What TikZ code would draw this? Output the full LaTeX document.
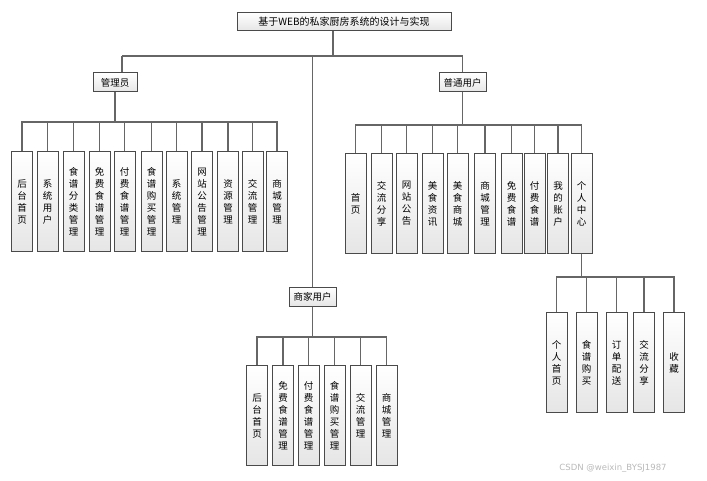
\documentclass[tikz,border=0pt]{standalone}
\usepackage{fontspec}
\newfontfamily\cjk{Noto Sans CJK SC}
\usetikzlibrary{shadings}
\definecolor{linec}{HTML}{666666}
\definecolor{boxc}{HTML}{4A4A4A}
\begin{document}
\begin{tikzpicture}[x=1pt,y=-1pt,
  box/.style={draw=boxc, line width=1pt, top color=white, bottom color=gray!20, inner sep=0pt, font=\cjk\fontsize{9.5}{12}\selectfont},
  grp/.style={box, minimum height=19pt, inner xsep=3pt},
  leaf/.style={box, minimum width=21pt, minimum height=100pt, align=center},
  conn/.style={draw=linec, line width=1.1pt}]
\useasboundingbox (0,0) rectangle (707,481);
% title
\node[box, minimum width=214pt, minimum height=18pt, font=\cjk\fontsize{10}{12}\selectfont] (title) at (344,21.5) {基于WEB的私家厨房系统的设计与实现};
\coordinate (trunkx) at (333,0);
\coordinate (topbus) at (0,56);
% groups
\node[grp, minimum width=44pt] (adm) at (115,82.5) {管理员};
\node[grp, minimum width=47pt] (usr) at (462.5,82.5) {普通用户};
\node[grp, minimum width=47pt] (mer) at (312.5,296.5) {商家用户};
\coordinate (admx) at (122,0);
\draw[conn] (title.south -| trunkx) -- (trunkx |- topbus);
\draw[conn] (admx |- topbus) -- (usr.north |- topbus);
\draw[conn] (admx |- topbus) -- (admx |- adm.north);
\draw[conn] (usr.north |- topbus) -- (usr.north);
\draw[conn] (mer.north |- topbus) -- (mer.north);
% admin children
\coordinate (admbus) at (0,122);
\foreach \i/\x/\t in {1/22/后\\台\\首\\页, 2/47.5/系\\统\\用\\户, 3/73.5/食\\谱\\分\\类\\管\\理, 4/99.5/免\\费\\食\\谱\\管\\理, 5/124.5/付\\费\\食\\谱\\管\\理, 6/151.5/食\\谱\\购\\买\\管\\理, 7/176.5/系\\统\\管\\理, 8/202/网\\站\\公\\告\\管\\理, 9/228/资\\源\\管\\理, 10/252.5/交\\流\\管\\理, 11/277/商\\城\\管\\理}{
  \node[leaf] (a\i) at (\x,202) {\t};
  \draw[conn] (adm.south) |- (admbus -| a\i.north) -- (a\i.north);
}
% user children
\coordinate (usrbus) at (0,125);
\foreach \i/\x/\t in {1/355.5/首\\页, 2/381.5/交\\流\\分\\享, 3/406.5/网\\站\\公\\告, 4/432.5/美\\食\\资\\讯, 5/457.5/美\\食\\商\\城, 6/485/商\\城\\管\\理, 7/511.5/免\\费\\食\\谱, 8/534.5/付\\费\\食\\谱, 9/558/我\\的\\账\\户, 10/581.5/个\\人\\中\\心}{
  \node[leaf] (u\i) at (\x,203.5) {\t};
  \draw[conn] (usr.south) |- (usrbus -| u\i.north) -- (u\i.north);
}
% personal center children
\coordinate (pcbus) at (0,277);
\foreach \i/\x/\t in {1/556.5/个\\人\\首\\页, 2/586.5/食\\谱\\购\\买, 3/616.5/订\\单\\配\\送, 4/644/交\\流\\分\\享, 5/674/收\\藏}{
  \node[leaf] (p\i) at (\x,362.5) {\t};
  \draw[conn] (u10.south) |- (pcbus -| p\i.north) -- (p\i.north);
}
% merchant children
\coordinate (merbus) at (0,337);
\foreach \i/\x/\t in {1/257/后\\台\\首\\页, 2/283/免\\费\\食\\谱\\管\\理, 3/308.5/付\\费\\食\\谱\\管\\理, 4/334.5/食\\谱\\购\\买\\管\\理, 5/360.5/交\\流\\管\\理, 6/386.5/商\\城\\管\\理}{
  \node[leaf] (m\i) at (\x,415.5) {\t};
  \draw[conn] (mer.south) |- (merbus -| m\i.north) -- (m\i.north);
}
% watermark
\node[font=\fontspec{DejaVu Sans}\fontsize{8.5}{10}\selectfont, text=gray!55] (wm) at (613,468) {CSDN @weixin\_BYSJ1987};
\end{tikzpicture}
\end{document}
